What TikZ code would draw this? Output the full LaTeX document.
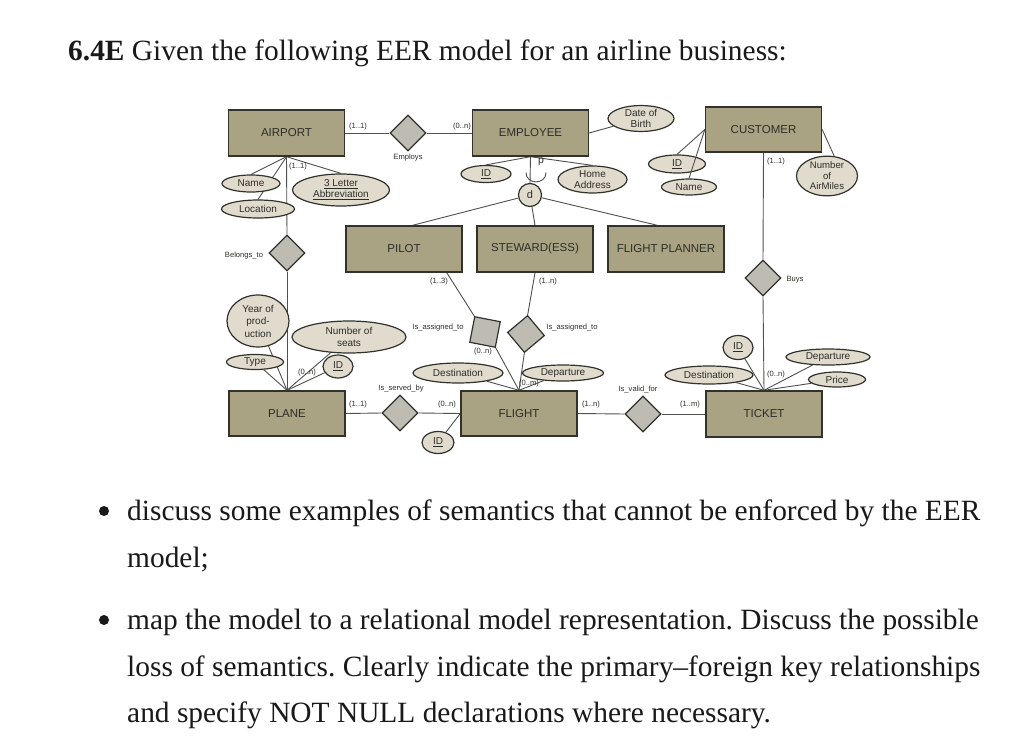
\documentclass[tikz,border=0pt]{standalone}
\usepackage{fontspec}
\setmainfont{Liberation Serif}
\newfontfamily\diag{Liberation Sans}
\usetikzlibrary{shapes.geometric,backgrounds,calc}
\pgfdeclarelayer{paper}
\pgfdeclarelayer{background}
\pgfsetlayers{paper,background,main}
\definecolor{entfill}{RGB}{169,162,131}
\definecolor{attrfill}{RGB}{224,219,204}
\definecolor{relfill}{RGB}{190,188,178}
\definecolor{edgec}{RGB}{50,50,45}
\definecolor{linec}{RGB}{80,80,78}
\definecolor{txtc}{RGB}{45,45,40}
\definecolor{bodyc}{RGB}{25,25,25}
\frenchspacing
\begin{document}
\begin{tikzpicture}[x=1pt,y=-1pt,
  ent/.style={draw=edgec, line width=1.4pt, fill=entfill, minimum width=116pt, minimum height=46pt, inner sep=0pt, font=\diag\fontsize{11.5}{13}\selectfont, text=txtc},
  attr/.style 2 args={ellipse, draw=edgec, line width=1.2pt, fill=attrfill, inner sep=0pt, minimum width=#1pt, minimum height=#2pt, font=\diag\fontsize{10}{11}\selectfont, text=txtc, align=center},
  rel/.style={diamond, draw=edgec, line width=1.2pt, fill=relfill, minimum width=36pt, minimum height=36pt, inner sep=0pt},
  relsq/.style={rectangle, draw=edgec, line width=1.2pt, fill=relfill, minimum width=26pt, minimum height=26pt, inner sep=0pt},
  lbl/.style={font=\diag\fontsize{7.6}{9}\selectfont, text=txtc, inner sep=0pt},
  conn/.style={draw=linec, line width=0.9pt},
  body/.style={anchor=base west, inner sep=0pt, text=bodyc, font=\fontsize{29.4}{35}\selectfont},
]
\useasboundingbox (0,0) rectangle (1024,752);
\begin{pgfonlayer}{paper}
\fill[white] (0,0) rectangle (1024,752);
\end{pgfonlayer}

% ---- text ----
\node[body] (title) at (68,60) {\textbf{6.4E} Given the following EER model for an airline business:};
\node[circle, fill=bodyc, minimum size=10pt, inner sep=0pt] (dot1) at (104,511) {};
\node[body] (b1a) at (127,520) {discuss some examples of semantics that cannot be enforced by the EER};
\node[body] (b1b) at (127,567) {model;};
\node[circle, fill=bodyc, minimum size=10pt, inner sep=0pt] (dot2) at (104,620) {};
\node[body] (b2a) at (127,629) {map the model to a relational model representation. Discuss the possible};
\node[body] (b2b) at (127,676) {loss of semantics. Clearly indicate the primary--foreign key relationships};
\node[body] (b2c) at (127,722) {and specify NOT NULL declarations where necessary.};

% ---- entities ----
\node[ent] (airport) at (286.5,133) {AIRPORT};
\node[ent] (employee) at (530.5,133) {EMPLOYEE};
\node[ent, minimum height=45pt] (customer) at (763.5,129.5) {CUSTOMER};
\node[ent] (pilot) at (404,249) {PILOT};
\node[ent] (steward) at (535,249) {STEWARD(ESS)};
\node[ent] (fplanner) at (666,249) {FLIGHT PLANNER};
\node[ent, minimum height=45pt] (plane) at (287,413.5) {PLANE};
\node[ent, minimum height=45pt] (flight) at (519,413.5) {FLIGHT};
\node[ent] (ticket) at (764,414) {TICKET};

% ---- relationships ----
\node[rel] (employs) at (408,133) {};
\node[rel] (belongs) at (287,253) {};
\node[rel] (buys) at (763,278) {};
\node[rel] (served) at (400,413) {};
\node[rel] (validfor) at (643,414) {};
\node[relsq, rotate=-11] (assignL) at (485,332) {};
\node[relsq, rotate=40] (assignR) at (526,334) {};
\node[circle, draw=edgec, line width=1.2pt, fill=attrfill, minimum size=23pt, inner sep=0pt, font=\diag\fontsize{11}{12}\selectfont, text=txtc] (dnode) at (530,195) {d};

% ---- attributes ----
\node[attr={66}{25}] (dob) at (641,118.5) {Date of\\Birth};
\node[attr={50}{17}] (empid) at (486,174) {\underline{ID}};
\node[attr={69}{27}] (homeaddr) at (592.5,179.5) {Home\\Address};
\node[attr={57}{18}] (custid) at (677,164) {\underline{ID}};
\node[attr={55}{16}] (custname) at (689,187) {Name};
\node[attr={61}{37}, font=\diag\fontsize{9.6}{10.5}\selectfont] (airmiles) at (827,176) {Number\\of\\AirMiles};
\node[attr={58}{17}] (apname) at (251,183.5) {Name};
\node[attr={73}{18}] (aploc) at (258,209) {Location};
\node[attr={97}{32}] (abbrev) at (341,190) {\underline{3 Letter}\\\underline{Abbreviation}};
\node[attr={62}{52}, font=\diag\fontsize{10}{12.5}\selectfont] (yearprod) at (258,321) {Year of\\prod-\\uction};
\node[attr={114}{32}, font=\diag\fontsize{10}{12.5}\selectfont] (seats) at (349,337) {Number of\\seats};
\node[attr={57}{15}] (ptype) at (255,362) {Type};
\node[attr={30}{23}] (planeid) at (338,366.5) {\underline{ID}};
\node[attr={90}{20}] (fdest) at (458,373) {Destination};
\node[attr={81}{16}] (fdep) at (563,373) {Departure};
\node[attr={32}{22}] (flightid) at (438,442.5) {\underline{ID}};
\node[attr={30}{24}] (tid) at (738,347.5) {\underline{ID}};
\node[attr={88}{18}] (tdest) at (709,375) {Destination};
\node[attr={84}{16}] (tdep) at (828,357) {Departure};
\node[attr={57}{15}] (tprice) at (837,379.5) {Price};

% ---- labels ----
\node[lbl] (l1) at (358,127) {(1..1)};
\node[lbl] (l2) at (462,127) {(0..n)};
\node[lbl] (l3) at (408,158) {Employs};
\node[lbl] (l4) at (298,166.5) {(1..1)};
\node[lbl] (l5) at (244,256) {Belongs\_to};
\node[lbl, font=\diag\fontsize{10.5}{12}\selectfont] (l6) at (541,162) {p};
\node[lbl] (l7) at (439,282) {(1..3)};
\node[lbl] (l8) at (548,282) {(1..n)};
\node[lbl] (l9) at (438,328) {Is\_assigned\_to};
\node[lbl] (l10) at (572,328) {Is\_assigned\_to};
\node[lbl] (l11) at (483,352) {(0..n)};
\node[lbl] (l12) at (529,384) {(0..m)};
\node[lbl] (l13) at (795,280) {Buys};
\node[lbl] (l14) at (776,162) {(1..1)};
\node[lbl] (l15) at (776,375) {(0..n)};
\node[lbl] (l16) at (690,405) {(1..m)};
\node[lbl] (l17) at (638,389) {Is\_valid\_for};
\node[lbl] (l18) at (591,405) {(1..n)};
\node[lbl] (l19) at (447,405) {(0..n)};
\node[lbl] (l20) at (358,405) {(1..1)};
\node[lbl] (l21) at (401,389) {Is\_served\_by};
\node[lbl] (l22) at (307,373) {(0..n)};

% ---- connectors (behind) ----
\begin{pgfonlayer}{background}
\draw[conn] (airport.east) -- (employs.west);
\draw[conn] (employs.east) -- (employee.west);
\draw[conn] (airport.south) -- (belongs.north);
\draw[conn] (belongs.south) -- (plane.north);
\draw[conn] (airport.south) -- (apname.north);
\draw[conn] (airport.south) -- (aploc.north);
\draw[conn] (airport.south) -- (abbrev.north);
\draw[conn] (employee.east) -- (dob);
\draw[conn] (employee.south) -- (empid.north);
\draw[conn] (employee.south) -- (homeaddr.north);
\draw[conn] (employee.south) -- (dnode.north);
\draw[conn] (dnode) -- (pilot.70);
\draw[conn] (dnode) -- (steward.north);
\draw[conn] (dnode) -- (fplanner.110);
\draw[conn] (customer.west) -- (custid.north);
\draw[conn] (customer.east) -- (airmiles.70);
\draw[conn] (customer.south) -- (buys.north);
\draw[conn] (buys.south) -- (ticket.north);
\draw[conn] (ticket.north) -- (tid);
\draw[conn] (ticket.north) -- (tdest);
\draw[conn] (ticket.north) -- (tdep);
\draw[conn] (ticket.north) -- (tprice);
\draw[conn] (flight.east) -- (validfor.west);
\draw[conn] (validfor.east) -- (ticket.west);
\draw[conn] (plane.east) -- (served.west);
\draw[conn] (served.east) -- (flight.west);
\draw[conn] (flight.west) -- (flightid);
\draw[conn] (flight.north) -- (fdest);
\draw[conn] (flight.north) -- (fdep);
\draw[conn] (pilot.-29) -- (assignL.north west);
\draw[conn] (assignL.south east) -- (flight.north);
\draw[conn] (steward.south) -- (assignR.north east);
\draw[conn] (assignR.south west) -- (flight.north);
\draw[conn] (plane.north) -- (yearprod);
\draw[conn] (plane.north) -- (ptype);
\draw[conn] (plane.north) -- (seats);
\draw[conn] (plane.north) -- (planeid);
\end{pgfonlayer}
% line drawn over the ID ellipse
\draw[conn] (customer.west) -- (custname.north);
% subset cup on the specialisation line
\draw[conn] (526,172.5) .. controls (526,185) and (546,185) .. (546,172.5);
\end{tikzpicture}
\end{document}
